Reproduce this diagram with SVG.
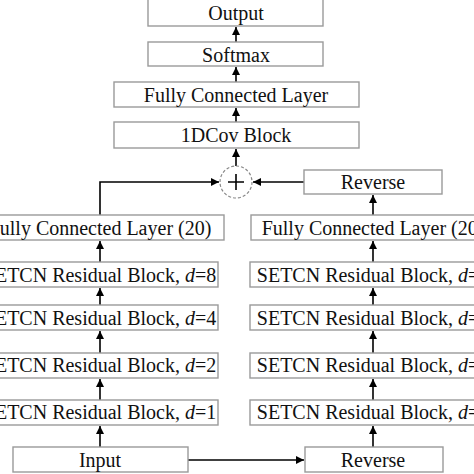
<svg xmlns="http://www.w3.org/2000/svg" width="474" height="474" viewBox="0 0 474 474">
<style>
.box{fill:#fff;stroke:#9a9a9a;stroke-width:1.4}
.t{font-family:"Liberation Serif","Times New Roman",serif;font-size:20px;fill:#111;text-anchor:middle;dominant-baseline:central}
.c{stroke:#000;stroke-width:1.6;fill:none}
</style>
<defs>
<marker id="ah" viewBox="0 0 10 10" refX="10" refY="5" markerWidth="9" markerHeight="8" markerUnits="userSpaceOnUse" orient="auto">
<path d="M0,0 L10,5 L0,10 z" fill="#000"/>
</marker>
</defs>
<g id="connectors">
<line class="c" x1="236" y1="42" x2="236" y2="27" marker-end="url(#ah)"/>
<line class="c" x1="236" y1="82" x2="236" y2="67" marker-end="url(#ah)"/>
<line class="c" x1="236" y1="122" x2="236" y2="108" marker-end="url(#ah)"/>
<line class="c" x1="236" y1="166" x2="236" y2="149" marker-end="url(#ah)"/>
<polyline class="c" points="100,215 100,182 219,182" marker-end="url(#ah)"/>
<line class="c" x1="304" y1="182" x2="253" y2="182" marker-end="url(#ah)"/>
<line class="c" x1="373" y1="215" x2="373" y2="195" marker-end="url(#ah)"/>
<line class="c" x1="100" y1="262" x2="100" y2="241" marker-end="url(#ah)"/>
<line class="c" x1="100" y1="305" x2="100" y2="288" marker-end="url(#ah)"/>
<line class="c" x1="100" y1="353" x2="100" y2="331" marker-end="url(#ah)"/>
<line class="c" x1="100" y1="400" x2="100" y2="379" marker-end="url(#ah)"/>
<line class="c" x1="100" y1="447" x2="100" y2="426" marker-end="url(#ah)"/>
<line class="c" x1="373" y1="262" x2="373" y2="241" marker-end="url(#ah)"/>
<line class="c" x1="373" y1="305" x2="373" y2="288" marker-end="url(#ah)"/>
<line class="c" x1="373" y1="353" x2="373" y2="331" marker-end="url(#ah)"/>
<line class="c" x1="373" y1="400" x2="373" y2="379" marker-end="url(#ah)"/>
<line class="c" x1="373" y1="447" x2="373" y2="426" marker-end="url(#ah)"/>
<line class="c" x1="188" y1="460" x2="304" y2="460" marker-end="url(#ah)"/>
</g>
<g id="output"><rect class="box" x="148" y="-4" width="175" height="30"/><text class="t" x="236" y="13">Output</text></g>
<g id="softmax"><rect class="box" x="148" y="42" width="175" height="24"/><text class="t" x="236" y="55">Softmax</text></g>
<g id="fc-top"><rect class="box" x="114" y="82" width="245" height="25"/><text class="t" x="236" y="95">Fully Connected Layer</text></g>
<g id="conv"><rect class="box" x="114" y="122" width="245" height="26"/><text class="t" x="236" y="135">1DCov Block</text></g>
<g id="sum"><circle cx="236" cy="182" r="16" fill="#fff" stroke="#888" stroke-width="1.2" stroke-dasharray="3,2"/><path d="M228,182 H244 M236,174 V190" stroke="#000" stroke-width="1.6"/></g>
<g id="reverse-top"><rect class="box" x="304" y="170" width="138" height="24"/><text class="t" x="373" y="182">Reverse</text></g>
<g id="fc-left"><rect class="box" x="-24" y="215" width="248" height="25"/><text class="t" x="100" y="228">Fully Connected Layer (20)</text></g>
<g id="fc-right"><rect class="box" x="251" y="215" width="248" height="25"/><text class="t" x="373" y="228">Fully Connected Layer (20)</text></g>
<g id="l8"><rect class="box" x="-18" y="262" width="236" height="25"/><text class="t" x="100" y="275">SETCN Residual Block, <tspan font-style="italic">d</tspan>=8</text></g>
<g id="l4"><rect class="box" x="-18" y="305" width="236" height="25"/><text class="t" x="100" y="318">SETCN Residual Block, <tspan font-style="italic">d</tspan>=4</text></g>
<g id="l2"><rect class="box" x="-18" y="353" width="236" height="25"/><text class="t" x="100" y="365">SETCN Residual Block, <tspan font-style="italic">d</tspan>=2</text></g>
<g id="l1"><rect class="box" x="-18" y="400" width="236" height="25"/><text class="t" x="100" y="412">SETCN Residual Block, <tspan font-style="italic">d</tspan>=1</text></g>
<g id="r8"><rect class="box" x="250" y="262" width="246" height="25"/><text class="t" x="373" y="275">SETCN Residual Block, <tspan font-style="italic">d</tspan>=8</text></g>
<g id="r4"><rect class="box" x="250" y="305" width="246" height="25"/><text class="t" x="373" y="318">SETCN Residual Block, <tspan font-style="italic">d</tspan>=4</text></g>
<g id="r2"><rect class="box" x="250" y="353" width="246" height="25"/><text class="t" x="373" y="365">SETCN Residual Block, <tspan font-style="italic">d</tspan>=2</text></g>
<g id="r1"><rect class="box" x="250" y="400" width="246" height="25"/><text class="t" x="373" y="412">SETCN Residual Block, <tspan font-style="italic">d</tspan>=1</text></g>
<g id="input"><rect class="box" x="13" y="447" width="175" height="25"/><text class="t" x="100" y="460">Input</text></g>
<g id="reverse-bottom"><rect class="box" x="305" y="447" width="138" height="25"/><text class="t" x="373" y="460">Reverse</text></g>
</svg>
